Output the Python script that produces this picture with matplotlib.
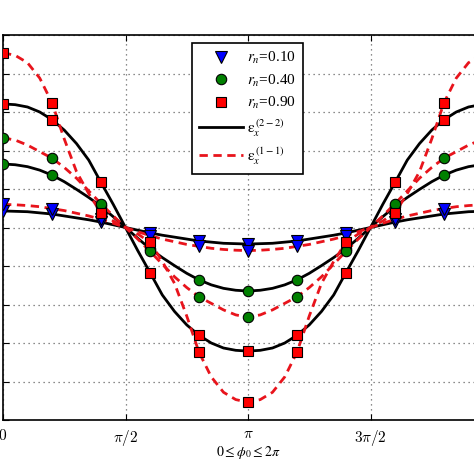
import matplotlib
matplotlib.use('Agg')
import matplotlib.pyplot as plt
import numpy as np

plt.rcParams.update({
    'font.family': 'serif',
    'font.serif': ['Liberation Serif', 'DejaVu Serif'],
    'mathtext.fontset': 'stix',
})

# samples every 0.05*pi over 0..2pi
phi = np.linspace(0, 2 * np.pi, 41)

# eps_x^(2-2) (solid black) for r_n = 0.10, 0.40, 0.90
e22_r010 = [0.43, 0.42, 0.41, 0.38, 0.35, 0.30, 0.25, 0.20, 0.14, 0.07, 0.00,
            -0.07, -0.14, -0.20, -0.25, -0.30, -0.35, -0.38, -0.41, -0.42, -0.43,
            -0.42, -0.41, -0.38, -0.35, -0.30, -0.25, -0.20, -0.14, -0.07, 0.00,
            0.07, 0.14, 0.20, 0.25, 0.30, 0.35, 0.38, 0.41, 0.42, 0.43]
e22_r040 = [1.65, 1.63, 1.58, 1.49, 1.36, 1.19, 0.99, 0.78, 0.55, 0.28, 0.00,
            -0.28, -0.55, -0.78, -0.99, -1.19, -1.36, -1.49, -1.58, -1.63, -1.65,
            -1.63, -1.58, -1.49, -1.36, -1.19, -0.99, -0.78, -0.55, -0.28, 0.00,
            0.28, 0.55, 0.78, 0.99, 1.19, 1.36, 1.49, 1.58, 1.63, 1.65]
e22_r090 = [3.21, 3.19, 3.13, 3.00, 2.80, 2.53, 2.18, 1.75, 1.17, 0.60, 0.00,
            -0.60, -1.17, -1.75, -2.18, -2.53, -2.80, -3.00, -3.13, -3.19, -3.21,
            -3.19, -3.13, -3.00, -2.80, -2.53, -2.18, -1.75, -1.17, -0.60, 0.00,
            0.60, 1.17, 1.75, 2.18, 2.53, 2.80, 3.00, 3.13, 3.19, 3.21]

# eps_x^(1-1) (dashed red)
e11_r010 = [0.60, 0.59, 0.57, 0.54, 0.49, 0.44, 0.37, 0.30, 0.21, 0.11, 0.00,
            -0.11, -0.21, -0.30, -0.37, -0.44, -0.49, -0.54, -0.57, -0.59, -0.60,
            -0.59, -0.57, -0.54, -0.49, -0.44, -0.37, -0.30, -0.21, -0.11, 0.00,
            0.11, 0.21, 0.30, 0.37, 0.44, 0.49, 0.54, 0.57, 0.59, 0.60]
e11_r040 = [2.33, 2.27, 2.14, 1.97, 1.80, 1.56, 1.28, 0.95, 0.62, 0.30, 0.00,
            -0.30, -0.62, -0.95, -1.28, -1.56, -1.80, -1.97, -2.14, -2.27, -2.33,
            -2.27, -2.14, -1.97, -1.80, -1.56, -1.28, -0.95, -0.62, -0.30, 0.00,
            0.30, 0.62, 0.95, 1.28, 1.56, 1.80, 1.97, 2.14, 2.27, 2.33]
e11_r090 = [4.54, 4.47, 4.28, 3.88, 3.24, 2.30, 1.45, 0.88, 0.38, 0.17, 0.00,
            -0.17, -0.38, -0.88, -1.45, -2.30, -3.24, -3.88, -4.28, -4.47, -4.54,
            -4.47, -4.28, -3.88, -3.24, -2.30, -1.45, -0.88, -0.38, -0.17, 0.00,
            0.17, 0.38, 0.88, 1.45, 2.30, 3.24, 3.88, 4.28, 4.47, 4.54]

r_labels = ['0.10', '0.40', '0.90']
xtick_labels = [r'$0$', r'$\pi/2$', r'$\pi$', r'$3\pi/2$', '']

fig = plt.figure(figsize=(4.74, 4.74), dpi=100)
ax = fig.add_axes([3 / 474, 54 / 474, 490 / 474, 385 / 474])

red = '#e8141c'
dash = (0, (3.0, 2.0))
ax.plot(phi, e22_r010, 'k-', lw=2.0, zorder=2)
ax.plot(phi, e22_r040, 'k-', lw=2.0, zorder=2)
l22, = ax.plot(phi, e22_r090, 'k-', lw=2.0, zorder=2,
               label=r'$\mathrm{ε}_x^{\,(2-2)}$')
ax.plot(phi, e11_r010, color=red, ls=dash, lw=2.0, zorder=2)
ax.plot(phi, e11_r040, color=red, ls=dash, lw=2.0, zorder=2)
l11, = ax.plot(phi, e11_r090, color=red, ls=dash, lw=2.0, zorder=2,
               label=r'$\mathrm{ε}_x^{\,(1-1)}$')

marker_sets = [
    (e22_r010, e11_r010, 'v', '#0000ff', 8.5),
    (e22_r040, e11_r040, 'o', '#008000', 7.5),
    (e22_r090, e11_r090, 's', '#ff0000', 6.5),
]
mk_handles = []
for (a, b, m, c, s), lab in zip(marker_sets, r_labels):
    for vals in (a, b):
        h, = ax.plot(phi[::4], np.asarray(vals)[::4], m, color=c, mec='k',
                     mew=0.8, ms=s, zorder=3)
    h.set_label(r'$r_n$=' + lab)
    mk_handles.append(h)

ax.set_xlim(0, 2 * np.pi)
ax.set_ylim(-5, 5)
ax.set_yticks(np.arange(-5, 6, 1))
ax.set_xticks([0, np.pi / 2, np.pi, 3 * np.pi / 2, 2 * np.pi])
ax.set_xticklabels(xtick_labels, fontsize=11, math_fontfamily='cm')
ax.tick_params(direction='in', top=True, right=True, length=4, width=0.8, pad=6,
               labelleft=False)
ax.grid(True, ls=(0, (1, 3)), color='0.4', lw=0.9)
for sp in ax.spines.values():
    sp.set_linewidth(1.2)
ax.set_xlabel(r'$0 \leq \phi_0 \leq 2\pi$', fontsize=10, labelpad=-3)

leg = ax.legend(handles=mk_handles + [l22, l11], loc='upper left',
                bbox_to_anchor=(0.386, 0.979), fontsize=11, frameon=True,
                fancybox=False, edgecolor='k', framealpha=1, handlelength=2.9,
                handletextpad=0.25, borderpad=0.45, labelspacing=0.42,
                borderaxespad=0)
leg.get_frame().set_linewidth(1.2)

fig.savefig('out.png', dpi=100)
